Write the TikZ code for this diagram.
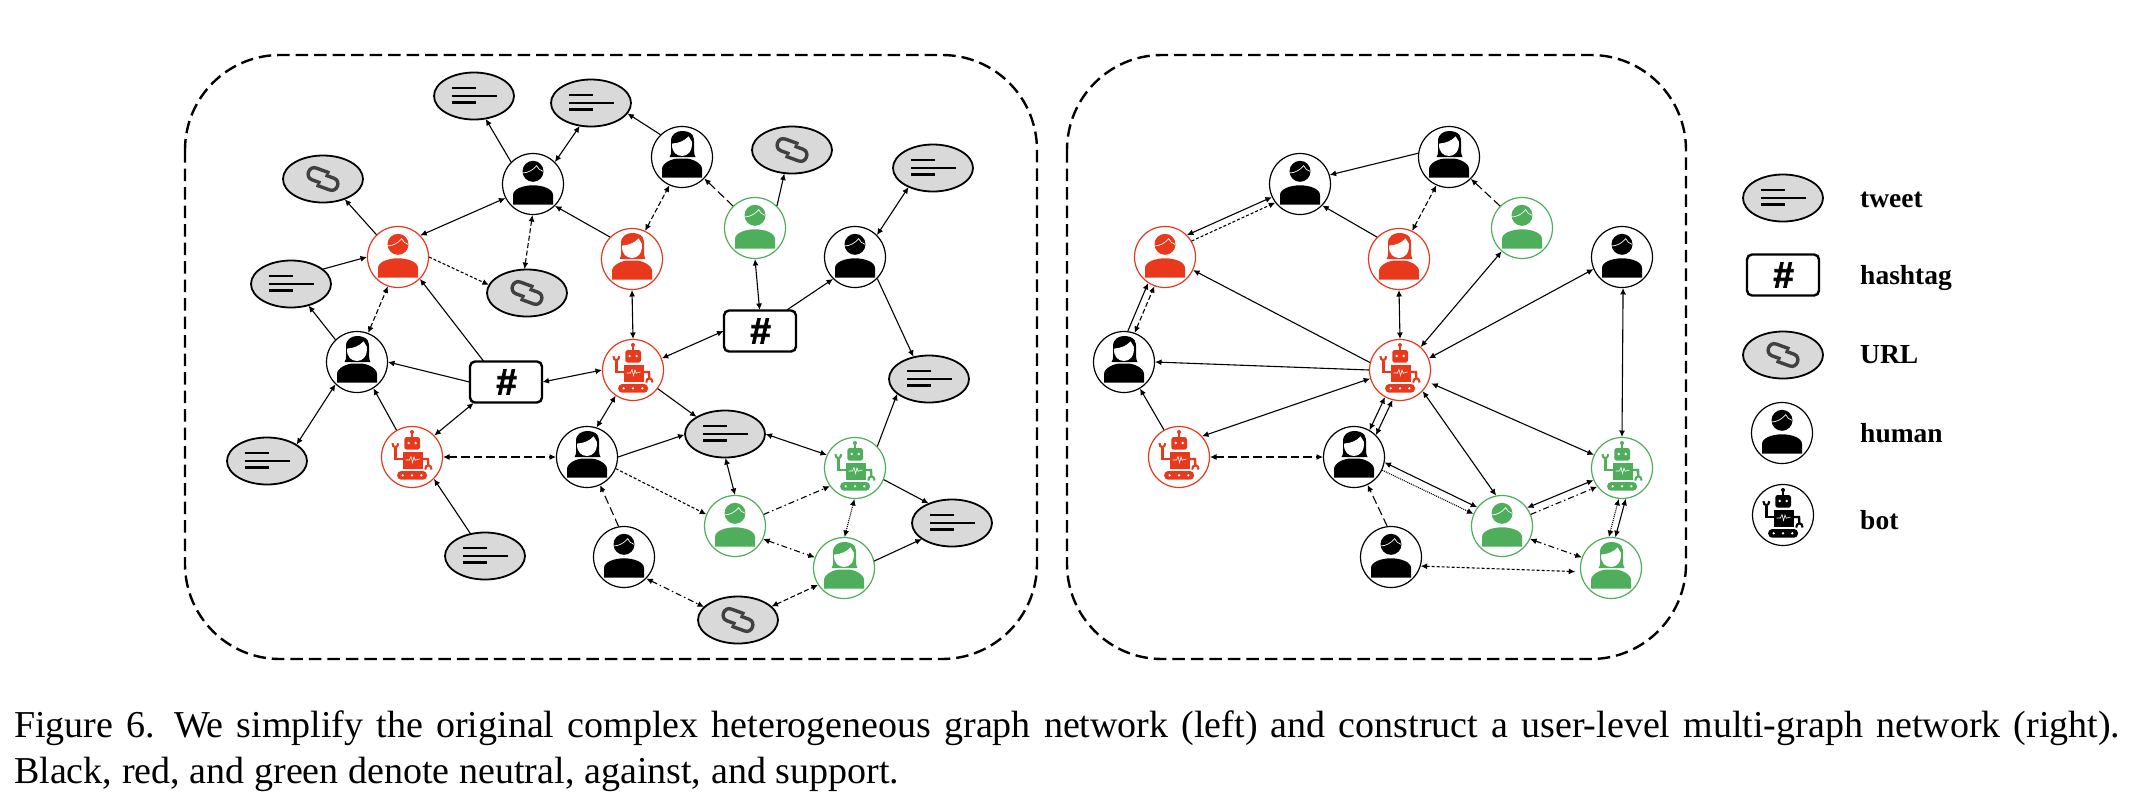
\documentclass[tikz,border=0pt]{standalone}
\usepackage{fontspec}
\setmainfont{Liberation Serif}
\newfontfamily\hashfont[BoldItalicFeatures={FakeBold=2}]{Liberation Sans}
\usetikzlibrary{arrows.meta,shapes.geometric}
\definecolor{cred}{HTML}{E8391D}
\definecolor{cgreen}{HTML}{4EAE5C}
\definecolor{cgrey}{HTML}{D9D9D9}
\definecolor{clink}{HTML}{404040}
\tikzset{
  x=1pt,y=-1pt,
  framebox/.style={draw=black,line width=2.4pt,dash pattern=on 12.5pt off 6pt,rounded corners=95pt},
  personnode/.style={circle,minimum size=61pt,inner sep=0pt,outer sep=0.5pt,line width=1.2pt,draw=#1},
  entnode/.style={ellipse,minimum width=80pt,minimum height=47pt,inner sep=0pt,outer sep=0.5pt,draw=black,line width=1.8pt,fill=cgrey},
  hashnode/.style={rectangle,rounded corners=5pt,minimum width=72pt,minimum height=41pt,inner sep=0pt,outer sep=0.5pt,draw=black,line width=2.4pt,font=\hashfont\bfseries\itshape\fontsize{37}{37}\selectfont},
  edgeone/.style={line width=1.1pt,-{Latex[length=6.5pt,width=6pt]}},
  edgetwo/.style={line width=1.1pt,{Latex[length=6.5pt,width=6pt]}-{Latex[length=6.5pt,width=6pt]}},
  dsa/.style={dash pattern=on 5pt off 2.5pt},
  dsb/.style={dash pattern=on 8.5pt off 4pt},
  dsc/.style={dash pattern=on 3pt off 2pt},
  dsd/.style={dash pattern=on 1pt off 1pt},
  dse/.style={dash pattern=on 6pt off 3pt on 1.5pt off 3pt},
  labeltext/.style={anchor=base west,inner sep=0pt,font=\bfseries\fontsize{27.5}{30}\selectfont},
  captiontext/.style={anchor=base west,inner sep=0pt,font=\fontsize{38}{46}\selectfont},
  manicon/.pic={
    \fill[#1] (0,-12.7) circle (10.5);
    \draw[white,line width=.7pt] (-10.7,-11) .. controls (-5,-11) and (0,-14) .. (3.7,-18.3) .. controls (5,-15.5) and (7,-13.5) .. (10,-12.7);
    \fill[#1] (-20,20.7) -- (-20,11) .. controls (-20,5) and (-10,1.3) .. (0,1.3) .. controls (10,1.3) and (20,5) .. (20,11) -- (20,20.7) -- cycle;
  },
  womanicon/.pic={
    \fill[#1] (-12.5,0) .. controls (-10,-3) and (-11,-8) .. (-11,-16) .. controls (-11,-23) and (-5,-26) .. (0,-26) .. controls (4,-26) and (8,-25) .. (10.5,-22) .. controls (13,-18) and (12,-10) .. (12,-6) .. controls (12,-3) and (13,-1) .. (13.5,0) -- cycle;
    \draw[white,fill=white,line width=.8pt] (-9.5,-13) .. controls (-10,-5) and (-5,-1.5) .. (0,-1.5) .. controls (5,-1.5) and (10,-5) .. (9.5,-15) .. controls (8.5,-17) and (7.5,-18) .. (6.5,-20) .. controls (3,-16) and (-3,-13.5) .. (-9.5,-13) -- cycle;
    \fill[#1] (-20,20.7) -- (-20,12) .. controls (-20,6) and (-10,1.5) .. (-3.5,1.5) -- (3.5,1.5) .. controls (10,1.5) and (20,6) .. (20,12) -- (20,20.7) -- cycle;
  },
  roboticon/.pic={
    \fill[#1] (0,-25) circle (2);
    \draw[#1,line width=1.4pt] (0,-25) -- (0,-19);
    \fill[#1,rounded corners=2.5pt] (-7.7,-20) rectangle (8,-7.3);
    \fill[white] (-3.3,-14) circle (1.3);
    \fill[white] (3.7,-14) circle (1.3);
    \fill[#1] (-9.3,-5) rectangle (10.7,11.7);
    \draw[white,line width=.6pt] (-6.5,3) -- (-2.5,3) -- (-1,-0.5) -- (.5,5.5) -- (2,0) -- (3.2,3.2) -- (7.5,2);
    \draw[#1,line width=2.4pt] (-9.3,2) -- (-16.7,2) -- (-16.7,-9);
    \draw[#1,line width=2.1pt] (-19.6,-13.8) .. controls (-19.6,-8.5) and (-13.8,-8.5) .. (-13.8,-13.8);
    \draw[#1,line width=2.4pt] (10.7,2) -- (16,2) -- (16.3,8);
    \draw[#1,line width=2.1pt] (13.2,12.5) .. controls (13.2,7) and (19.6,7) .. (19.6,12.5);
    \fill[#1,rounded corners=4pt] (-14.8,14) rectangle (15,22.7);
    \fill[white] (-9.3,18.3) circle (1.3);
    \fill[white] (0,18.3) circle (1.3);
    \fill[white] (9.3,18.3) circle (1.3);
  },
  tweeticon/.pic={
    \draw[black,line width=2.2pt] (-22,-7.7) -- (2,-7.7);
    \draw[black,line width=2.2pt] (-22,0) -- (22.7,0);
    \draw[black,line width=2.2pt] (-22,6.5) -- (2,6.5);
  },
  linkicon/.pic={
    \begin{scope}[rotate=-20]
    \draw[clink,line width=3.4pt] (4,-8) -- (-10,-8) .. controls (-18,-8) and (-18,4.5) .. (-10,4.5) -- (-1,4.5);
    \draw[clink,line width=3.4pt] (-4,8) -- (10,8) .. controls (18,8) and (18,-4.5) .. (10,-4.5) -- (1,-4.5);
    \end{scope}
  },
}
\newcommand\pers[4]{\node[personnode=#4] (#1) at (#2) {}; \pic at (#1) {#3=#4};}
\newcommand\tw[2]{\node[entnode] (#1) at (#2) {}; \pic at (#1) {tweeticon};}
\newcommand\ur[2]{\node[entnode] (#1) at (#2) {}; \pic at (#1) {linkicon};}
\begin{document}
\begin{tikzpicture}
\path[use as bounding box] (0,0) rectangle (2142,796);
\fill[white] (0,0) rectangle (2142,796);
% frames
\draw[framebox] (185,55) rectangle (1037,659);
\draw[framebox] (1067,55) rectangle (1686,659);
% left graph
\tw{Ta}{474,96} \tw{Tb}{591,103} \tw{Tc}{291,284} \tw{Td}{933,168} \tw{Te}{267,461}
\tw{Tf}{485,556} \tw{Tg}{725,434} \tw{Th}{929,379} \tw{Ti}{952,523}
\ur{Ua}{323,179} \ur{Ub}{527,293} \ur{Uc}{792,150} \ur{Ud}{738,620}
\pers{Ha}{533,184}{manicon}{black}
\pers{Hb}{855,257}{manicon}{black}
\pers{Hc}{624,557}{manicon}{black}
\pers{Fa}{357,362}{womanicon}{black}
\pers{Fb}{682,157}{womanicon}{black}
\pers{Fc}{587,457}{womanicon}{black}
\pers{Ra}{398,257}{manicon}{cred}
\pers{Rf}{632,259}{womanicon}{cred}
\pers{Rb}{633,370}{roboticon}{cred}
\pers{Rc}{412,457}{roboticon}{cred}
\pers{Ga}{755,228}{manicon}{cgreen}
\pers{Gb}{735,526}{manicon}{cgreen}
\pers{Gr}{855,468}{roboticon}{cgreen}
\pers{Gf}{844,568}{womanicon}{cgreen}
\node[hashnode] (Sa) at (506,382) {\#};
\node[hashnode] (Sb) at (760,331) {\#};
% left edges
\draw[edgeone] (Ha.135) -- (Ta.-63);
\draw[edgetwo] (Ha.45) -- (Tb.-116);
\draw[edgeone] (Ra.134) -- (Ua.-43);
\draw[edgeone] (Tc.25) -- (Ra.180);
\draw[edgetwo] (Ra.44) -- (Ha.207);
\draw[edgeone,dsc] (Ra.0) -- (Ub.168);
\draw[edgetwo,dsa] (Ha.-91) -- (Ub.96);
\draw[edgeone] (Rf.135) -- (Ha.-45);
\draw[edgeone] (Fa.134) -- (Tc.-51);
\draw[edgetwo,dsa] (Fa.69) -- (Ra.-109.5);
\draw[edgeone] (Sa.137) -- (Ra.-45);
\draw[edgeone] (Sa.180) -- (Fa.0);
\draw[edgetwo] (Sa.0) -- (Rb.180);
\draw[edgetwo] (Fa.226) -- (Te.29);
\draw[edgeone] (Rc.120) -- (Fa.-58.6);
\draw[edgetwo] (Rc.44.6) -- (Sa.213);
\draw[edgeone] (Tf.123.5) -- (Rc.-45);
\draw[edgetwo,dsb] (Rc.0) -- (Fc.180);
\draw[edgetwo] (Fc.72.5) -- (Rb.236);
\draw[edgeone,dsb] (Hc.100) -- (Fc.-65);
\draw[edgeone] (Rb.-37) -- (Tg.149);
\draw[edgeone] (Fc.0) -- (Tg.181);
\draw[edgeone,dsc] (Fc.-22.7) -- (Gb.158);
\draw[edgetwo] (Tg.-89) -- (Gb.90);
\draw[edgetwo] (Tg.0) -- (Gr.155.4);
\draw[edgeone,dse] (Gb.22.6) -- (Gr.216.8);
\draw[edgeone] (Gr.44) -- (Th.205.8);
\draw[edgeone] (Gr.-22) -- (Ti.140.5);
\draw[edgeone] (Gf.13.5) -- (Ti.208.6);
\draw[edgetwo,dsd] (Gr.-91) -- (Gf.89);
\draw[edgetwo,dse] (Gb.-25.5) -- (Gf.160.6);
\draw[edgetwo,dse] (Hc.-44) -- (Ud.159.6);
\draw[edgetwo,dsa] (Ud.22.5) -- (Gf.213);
\draw[edgeone] (Fb.134.6) -- (Tb.-16);
\draw[edgetwo,dsa] (Rf.65) -- (Fb.246);
\draw[edgeone,dsb] (Ga.135) -- (Fb.-44);
\draw[edgeone] (Ga.45) -- (Uc.252.6);
\draw[edgetwo] (Ga.-90) -- (Sb.91);
\draw[edgetwo] (Rf.-90) -- (Rb.90);
\draw[edgeone] (Sb.38) -- (Hb.225);
\draw[edgetwo] (Hb.45) -- (Td.218.7);
\draw[edgeone] (Hb.-44.6) -- (Th.125);
\draw[edgetwo] (Sb.180) -- (Rb.22.7);
% right graph
\pers{xHa}{1300,184}{manicon}{black}
\pers{xHb}{1622,257}{manicon}{black}
\pers{xHc}{1391,557}{manicon}{black}
\pers{xFa}{1124,362}{womanicon}{black}
\pers{xFb}{1449,157}{womanicon}{black}
\pers{xFc}{1354,457}{womanicon}{black}
\pers{xRa}{1165,257}{manicon}{cred}
\pers{xRf}{1399,259}{womanicon}{cred}
\pers{xRb}{1400,370}{roboticon}{cred}
\pers{xRc}{1179,457}{roboticon}{cred}
\pers{xGa}{1522,228}{manicon}{cgreen}
\pers{xGb}{1502,526}{manicon}{cgreen}
\pers{xGr}{1622,468}{roboticon}{cgreen}
\pers{xGf}{1611,568}{womanicon}{cgreen}
% right edges
\draw[edgeone] (xFb.173) -- (xHa.17);
\draw[edgetwo] (xRa.45) -- (xHa.205.5);
\draw[edgeone,dsc] (xRa.31) -- (xHa.217.8);
\draw[edgeone] (xRf.135) -- (xHa.-44.6);
\draw[edgetwo,dsa] (xRf.65) -- (xFb.246);
\draw[edgeone,dsb] (xGa.135) -- (xFb.-45);
\draw[edgeone] (xFa.83) -- (xRa.237.5);
\draw[edgetwo,dsa] (xFa.70) -- (xRa.250);
\draw[edgeone] (xRb.166) -- (xRa.-25);
\draw[edgetwo] (xRf.-90) -- (xRb.90);
\draw[edgetwo] (xGa.229) -- (xRb.48);
\draw[edgetwo] (xHb.203) -- (xRb.22.4);
\draw[edgetwo] (xHb.-88) -- (xGr.90);
\draw[edgeone] (xRb.180) -- (xFa.0);
\draw[edgeone] (xRc.119) -- (xFa.-59);
\draw[edgetwo] (xRb.196.5) -- (xRc.42.4);
\draw[edgetwo,dsb] (xRc.0) -- (xFc.180);
\draw[edgetwo] (xFc.60.5) -- (xRb.241.6);
\draw[edgetwo] (xFc.45) -- (xRb.256);
\draw[edgetwo] (xRb.-43.3) -- (xGb.101);
\draw[edgetwo,shorten <=3pt] (xRb.-23.4) -- (xGr.155);
\draw[edgetwo] (xFc.-10) -- (xGb.143.5);
\draw[edgeone,dsd] (xFc.-25) -- (xGb.157.6);
\draw[edgeone,dsb] (xHc.97) -- (xFc.-64);
\draw[edgetwo,dsc,shorten >=5pt] (xHc.-17) -- (xGf.187.5);
\draw[edgetwo] (xGb.36.9) -- (xGr.203.7);
\draw[edgeone,dse] (xGb.22) -- (xGr.217);
\draw[edgetwo,dse] (xGb.-25.5) -- (xGf.160);
\draw[edgetwo,dsd] (xGr.264.6) -- (xGf.94);
\draw[edgetwo] (xGr.-83.5) -- (xGf.82);
% legend
\tw{Lt}{1783,198}
\node[hashnode] (Ls) at (1783,275) {\#};
\ur{Lu}{1783,355}
\pers{Lh}{1782,433}{manicon}{black}
\pers{Lb}{1783,515}{roboticon}{black}
\node[labeltext] (Ltt) at (1860,207) {tweet};
\node[labeltext] (Lts) at (1860,284) {hashtag};
\node[labeltext] (Ltu) at (1860,363) {URL};
\node[labeltext] (Lth) at (1860,442) {human};
\node[labeltext] (Ltb) at (1860,529) {bot};
% caption
\node[captiontext] (capa) at (14,737) {\makebox[2106pt][s]{Figure 6.\hspace{0.5em}We simplify the original complex heterogeneous graph network (left) and construct a user-level multi-graph network (right).}};
\node[captiontext] (capb) at (14,783) {\makebox[885pt][s]{Black, red, and green denote neutral, against, and support.}};
\end{tikzpicture}
\end{document}
